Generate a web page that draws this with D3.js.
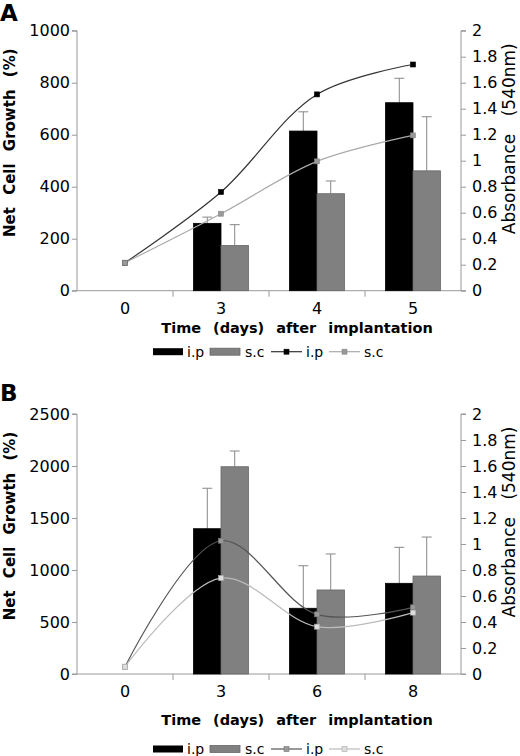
<!DOCTYPE html>
<html>
<head>
<meta charset="utf-8">
<script src="https://cdn.jsdelivr.net/npm/d3@7"></script>
<style>
  body { margin: 0; background: #fff; }
  text { font-family: "DejaVu Sans", sans-serif; }
</style>
</head>
<body>
<div id="chart"></div>
<script>
// panel A data
var catsA = ["0", "3", "4", "5"];
var ipBarA = [null, 259, 614, 723];
var ipErrA = [null, 283, 688, 817];
var scBarA = [null, 174, 373, 461];
var scErrA = [null, 254, 422, 669];
var ipAbsA = [0.215, 0.759, 1.51, 1.74];
var scAbsA = [0.215, 0.592, 0.995, 1.195];
var leftTicksA = [0, 200, 400, 600, 800, 1000];

// panel B data
var catsB = ["0", "3", "6", "8"];
var ipBarB = [null, 1397, 632, 872];
var ipErrB = [null, 1786, 1041, 1218];
var scBarB = [null, 1993, 808, 942];
var scErrB = [null, 2144, 1154, 1317];
var ipAbsB = [0.056, 1.025, 0.459, 0.513];
var scAbsB = [0.056, 0.738, 0.364, 0.472];
var leftTicksB = [0, 500, 1000, 1500, 2000, 2500];

var rightTicks = [0, 0.2, 0.4, 0.6, 0.8, 1, 1.2, 1.4, 1.6, 1.8, 2];
var seriesNames = ["i.p", "s.c"];

var svg = d3.select("#chart").append("svg")
    .attr("width", 520)
    .attr("height", 756);
svg.append("rect").attr("width", 520).attr("height", 756).attr("fill", "#fff");

function drawPanel(cfg) {
  var left = 77, right = 461, top = cfg.top, bottom = cfg.top + 260;
  var g = svg.append("g");

  var x0 = d3.scaleBand().domain(cfg.cats).range([left, right]);
  var x1 = d3.scaleBand().domain(seriesNames).range([0, x0.bandwidth()]).paddingOuter(0.75);
  var y = d3.scaleLinear().domain([0, d3.max(cfg.leftTicks)]).range([bottom, top]);
  var y2 = d3.scaleLinear().domain([0, 2]).range([bottom, top]);

  // axes
  var yAxis = d3.axisLeft(y).tickValues(cfg.leftTicks).tickSize(5).tickPadding(2)
      .tickFormat(d3.format("d"));
  var yAx = g.append("g").attr("transform", "translate(" + left + ",0)").call(yAxis);
  var y2Axis = d3.axisRight(y2).tickValues(rightTicks).tickSize(5).tickPadding(6)
      .tickFormat(function(d) { return d3.format("")(d); });
  var y2Ax = g.append("g").attr("transform", "translate(" + right + ",0)").call(y2Axis);
  var xAx = g.append("g").attr("transform", "translate(0," + bottom + ")")
      .call(d3.axisBottom(x0).tickSize(0).tickPadding(12));
  // band boundary ticks
  xAx.selectAll(".bt").data(cfg.cats.slice(1)).enter().append("line")
      .attr("x1", function(d) { return x0(d); })
      .attr("x2", function(d) { return x0(d); })
      .attr("y1", 0).attr("y2", 6)
      .attr("stroke", "#999");
  g.selectAll(".domain").attr("stroke", "#999");
  g.selectAll(".tick line").attr("stroke", "#999");
  g.selectAll(".tick text").style("font-size", "16px").attr("fill", "#000");
  yAx.select(".domain").attr("d", "M-5," + bottom + "H0V" + top + "H-5");
  y2Ax.select(".domain").attr("d", "M5," + bottom + "H0V" + top + "H5");
  xAx.select(".domain").attr("d", "M" + left + ",0H" + right);

  // bars
  var barData = [];
  cfg.cats.forEach(function(c, i) {
    if (cfg.ipBar[i] != null) barData.push({cat: c, s: "i.p", v: cfg.ipBar[i], e: cfg.ipErr[i]});
    if (cfg.scBar[i] != null) barData.push({cat: c, s: "s.c", v: cfg.scBar[i], e: cfg.scErr[i]});
  });

  var barLayer = g.append("g");

  // error bars (upper only)
  var eb = barLayer.selectAll(".err").data(barData).enter().append("g");
  eb.append("line")
      .attr("x1", function(d) { return x0(d.cat) + x1(d.s) + x1.bandwidth() / 2; })
      .attr("x2", function(d) { return x0(d.cat) + x1(d.s) + x1.bandwidth() / 2; })
      .attr("y1", function(d) { return y(d.v); })
      .attr("y2", function(d) { return y(d.e); })
      .attr("stroke", "#888").attr("stroke-width", 1);
  eb.append("line")
      .attr("x1", function(d) { return x0(d.cat) + x1(d.s) + x1.bandwidth() / 2 - 5; })
      .attr("x2", function(d) { return x0(d.cat) + x1(d.s) + x1.bandwidth() / 2 + 5; })
      .attr("y1", function(d) { return y(d.e); })
      .attr("y2", function(d) { return y(d.e); })
      .attr("stroke", "#888").attr("stroke-width", 1);

  barLayer.selectAll(".bar").data(barData).enter().append("rect")
      .attr("x", function(d) { return x0(d.cat) + x1(d.s); })
      .attr("width", x1.bandwidth())
      .attr("y", function(d) { return y(d.v); })
      .attr("height", function(d) { return bottom - y(d.v); })
      .attr("fill", function(d) { return d.s == "i.p" ? "#000" : "#808080"; })
      .attr("stroke", function(d) { return d.s == "i.p" ? "#000" : "#666"; })
      .attr("stroke-width", 0.8);

  // lines
  var cx = function(c) { return x0(c) + x0.bandwidth() / 2; };
  var line = d3.line()
      .x(function(d) { return cx(d.cat); })
      .y(function(d) { return y2(d.v); })
      .curve(d3.curveCatmullRom.alpha(0.5));
  var lines = [
    {vals: cfg.ipAbs, stroke: cfg.ipLine, mark: cfg.ipMark, mstroke: cfg.ipMarkStroke},
    {vals: cfg.scAbs, stroke: cfg.scLine, mark: cfg.scMark, mstroke: cfg.scMarkStroke}
  ];
  lines.forEach(function(L) {
    var pts = cfg.cats.map(function(c, i) { return {cat: c, v: L.vals[i]}; });
    g.append("path").datum(pts)
        .attr("d", line).attr("fill", "none")
        .attr("stroke", L.stroke).attr("stroke-width", 1.2);
  });
  lines.forEach(function(L) {
    var pts = cfg.cats.map(function(c, i) { return {cat: c, v: L.vals[i]}; });
    g.append("g").selectAll("rect").data(pts).enter().append("rect")
        .attr("x", function(d) { return cx(d.cat) - 2.5; })
        .attr("y", function(d) { return y2(d.v) - 2.5; })
        .attr("width", 5).attr("height", 5)
        .attr("fill", L.mark).attr("stroke", L.mstroke).attr("stroke-width", 0.6);
  });

  // titles
  g.append("text")
      .attr("transform", "translate(15," + (top + 112) + ") rotate(-90)")
      .attr("text-anchor", "middle")
      .style("font-size", "15px").style("font-weight", "bold").style("word-spacing", "7px")
      .text("Net Cell Growth (%)");
  g.append("text")
      .attr("transform", "translate(515," + (top + 108) + ") rotate(-90)")
      .attr("text-anchor", "middle")
      .style("font-size", "17px").style("word-spacing", "12px")
      .text("Absorbance (540nm)");
  g.append("text")
      .attr("x", 297).attr("y", bottom + cfg.titleDy)
      .attr("text-anchor", "middle")
      .style("font-size", "14.5px").style("font-weight", "bold").style("word-spacing", "7px")
      .text("Time (days) after implantation");
  g.append("text")
      .attr("x", 0).attr("y", cfg.letterY)
      .style("font-size", "23px").style("font-weight", "bold")
      .text(cfg.letter);

  // legend
  var ly = bottom + cfg.legendDy;
  var leg = g.append("g").attr("transform", "translate(0," + ly + ")");
  leg.append("rect").attr("x", 153).attr("y", -3.5).attr("width", 30).attr("height", 7).attr("fill", "#000");
  leg.append("text").attr("x", 187).attr("y", 5).style("font-size", "14px").text(seriesNames[0]);
  leg.append("rect").attr("x", 210).attr("y", -3.5).attr("width", 30).attr("height", 7)
      .attr("fill", "#808080").attr("stroke", "#666").attr("stroke-width", 0.8);
  leg.append("text").attr("x", 245).attr("y", 5).style("font-size", "14px").text(seriesNames[1]);
  var legLines = [
    {x: 271, tx: 306, L: lines[0], t: seriesNames[0]},
    {x: 329, tx: 364, L: lines[1], t: seriesNames[1]}
  ];
  legLines.forEach(function(d) {
    leg.append("line").attr("x1", d.x).attr("x2", d.x + 31).attr("y1", 0).attr("y2", 0)
        .attr("stroke", d.L.stroke).attr("stroke-width", 1.2);
    leg.append("rect").attr("x", d.x + 13).attr("y", -2.5).attr("width", 5).attr("height", 5)
        .attr("fill", d.L.mark).attr("stroke", d.L.mstroke).attr("stroke-width", 0.6);
    leg.append("text").attr("x", d.tx).attr("y", 5).style("font-size", "14px").text(d.t);
  });
}

drawPanel({
  top: 30.7, cats: catsA, leftTicks: leftTicksA,
  ipBar: ipBarA, ipErr: ipErrA, scBar: scBarA, scErr: scErrA,
  ipAbs: ipAbsA, scAbs: scAbsA,
  ipLine: "#333", scLine: "#aaa",
  ipMark: "#000", ipMarkStroke: "#000", scMark: "#999", scMarkStroke: "#888",
  titleDy: 42, legendDy: 61, letter: "A", letterY: 21
});

drawPanel({
  top: 414, cats: catsB, leftTicks: leftTicksB,
  ipBar: ipBarB, ipErr: ipErrB, scBar: scBarB, scErr: scErrB,
  ipAbs: ipAbsB, scAbs: scAbsB,
  ipLine: "#555", scLine: "#bbb",
  ipMark: "#999", ipMarkStroke: "#777", scMark: "#ddd", scMarkStroke: "#aaa",
  titleDy: 51, legendDy: 75, letter: "B", letterY: 401
});
</script>
</body>
</html>
